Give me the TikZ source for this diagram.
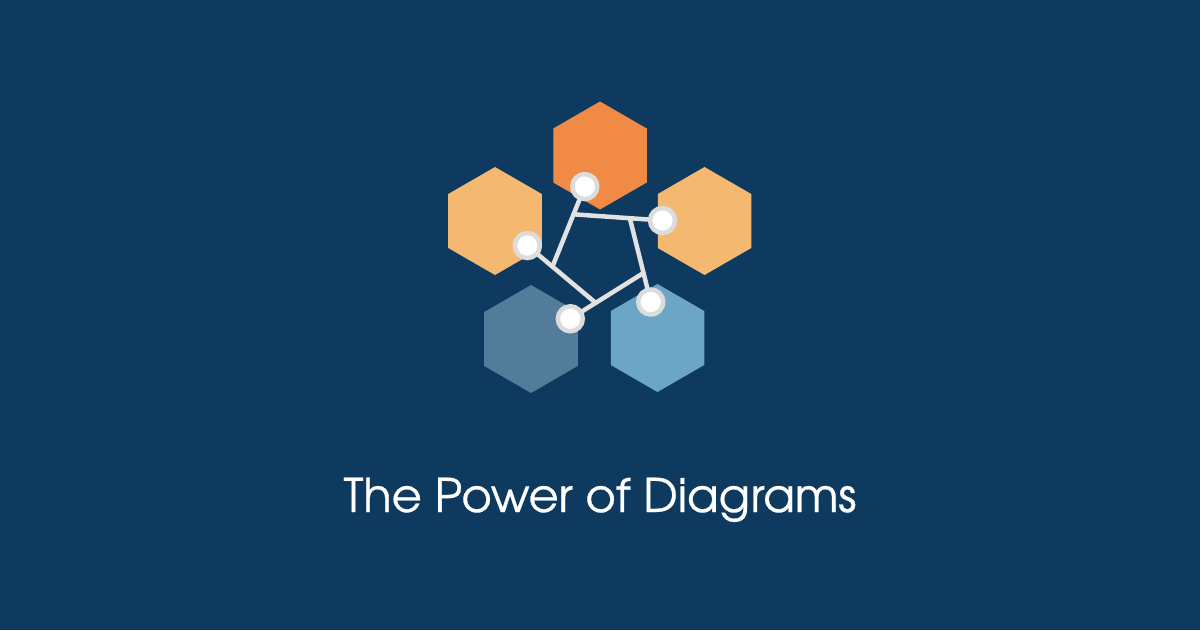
\documentclass[tikz,border=0pt]{standalone}
\usepackage{fontspec}
\setmainfont[FakeBold=0.6,BoldFont=texgyreadventor-regular.otf]{texgyreadventor-regular.otf}
\usepackage{tikz}
\usetikzlibrary{shapes.geometric, calc}

\definecolor{navy}{HTML}{0E3A5F}
\definecolor{deeporange}{HTML}{F08A45}
\definecolor{softorange}{HTML}{F4B870}
\definecolor{slateblue}{HTML}{537B9A}
\definecolor{skyblue}{HTML}{6BA6C5}
\definecolor{ringgray}{HTML}{DCDCDC}
\definecolor{linkgray}{HTML}{E2E2E2}

\begin{document}
\begin{tikzpicture}[x=0.02cm, y=0.02cm,
        hexa/.style={regular polygon, regular polygon sides=6, shape border rotate=30,
            minimum size=2.16cm, inner sep=0pt, outer sep=0pt},
        dot/.style={circle, fill=white, draw=ringgray, line width=0.09cm,
            minimum size=0.5cm, inner sep=0pt},
        link/.style={draw=linkgray, line width=0.09cm, line cap=round}]

        % Background
        \fill[navy] (0,0) rectangle (1200,630);
        \useasboundingbox (0,0) rectangle (1200,630);

        % Hexagons
        \node[hexa, fill=deeporange] (top) at (600, 474.5) {};
        \node[hexa, fill=softorange] (left) at (495, 409) {};
        \node[hexa, fill=softorange] (right) at (704.5, 409) {};
        \node[hexa, fill=slateblue] (botleft) at (531, 291) {};
        \node[hexa, fill=skyblue] (botright) at (657.5, 292) {};

        % Pentagon corners
        \coordinate (pc) at (599, 375);
        \coordinate (p1) at ($(pc)+(122:48)$);
        \coordinate (p2) at ($(pc)+(50:48)$);
        \coordinate (p3) at ($(pc)+(-22:48)$);
        \coordinate (p4) at ($(pc)+(-94:48)$);
        \coordinate (p5) at ($(pc)+(-166:48)$);

        % Connectors
        \node[dot] (c1) at ($(p5)!1.53!(p1)$) {};
        \node[dot] (c2) at ($(p1)!1.58!(p2)$) {};
        \node[dot] (c3) at ($(p2)!1.53!(p3)$) {};
        \node[dot] (c4) at ($(p3)!1.53!(p4)$) {};
        \node[dot] (c5) at ($(p4)!1.58!(p5)$) {};

        % Edges
        \draw[link] (c1) -- (p5);
        \draw[link] (c2) -- (p1);
        \draw[link] (c3) -- (p2);
        \draw[link] (c4) -- (p3);
        \draw[link] (c5) -- (p4);

        % Title
        \node[text=white, font=\fontsize{26.4}{30}\selectfont\bfseries, anchor=base] (title) at (600, 118) {The Power of Diagrams};

    \end{tikzpicture}
\end{document}
